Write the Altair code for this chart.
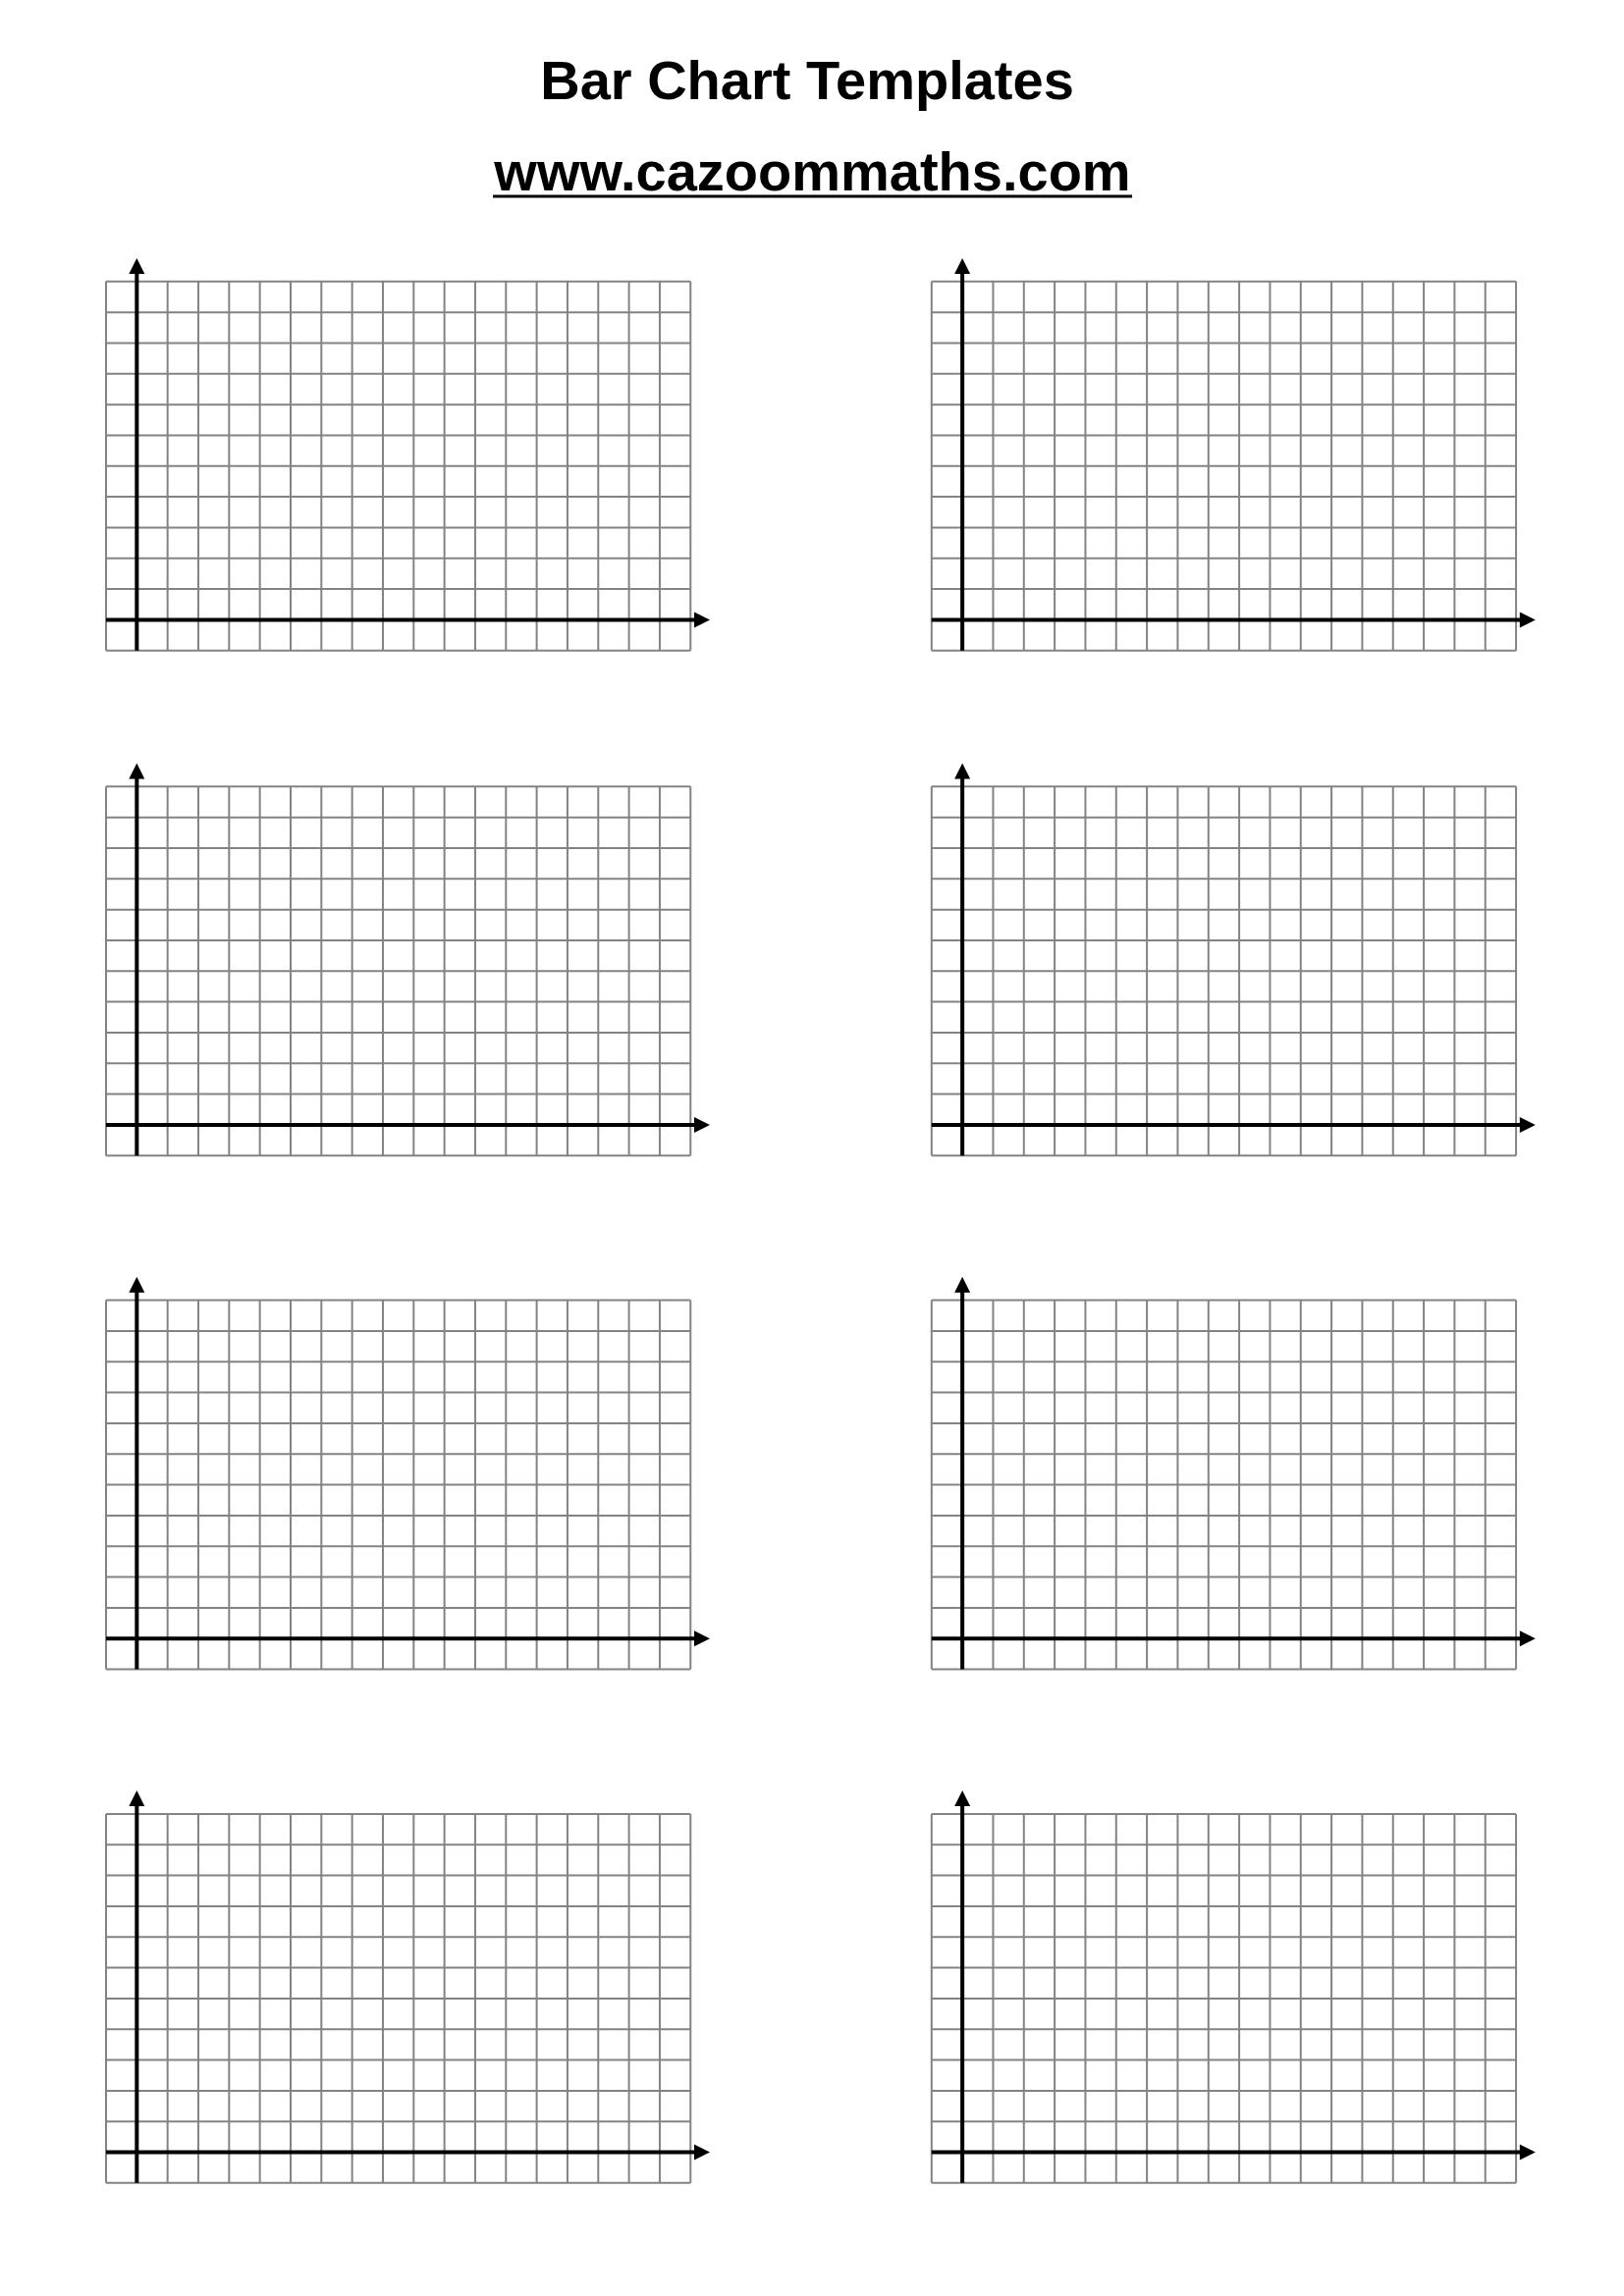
import altair as alt
import pandas as pd

# ---- content ----
TITLE = "Bar Chart Templates"
URL = "www.cazoommaths.com"
N_COLS = 19          # squares across each template
N_ROWS = 12          # squares up each template
AXIS_COL = 1         # grid line used as the vertical axis
AXIS_ROW = 1         # grid line used as the horizontal axis
COL_LINES = list(range(N_COLS + 1))
ROW_LINES = list(range(N_ROWS + 1))
PANEL_ROWS = 4
PANEL_COLS = 2

# ---- styling / geometry ----
CELL = 31.33
X_OVER = 0.63        # arrow overhang beyond grid (cells)
Y_OVER = 0.76
HEAD = 16            # arrow head length in px
GRID_COLOR = "#838383"
FONT = "Liberation Sans"

XMAX = N_COLS + X_OVER
YMAX = N_ROWS + Y_OVER
W = XMAX * CELL
H = YMAX * CELL
H_SPACE = 224.8

vlines = pd.DataFrame({"x": COL_LINES, "y0": [0] * len(COL_LINES), "y1": [N_ROWS] * len(COL_LINES)})
hlines = pd.DataFrame({"y": ROW_LINES, "x0": [0] * len(ROW_LINES), "x1": [N_COLS] * len(ROW_LINES)})
yaxis = pd.DataFrame({"x": [AXIS_COL], "y0": [0], "y1": [YMAX - HEAD / 2 / CELL]})
xaxis = pd.DataFrame({"y": [AXIS_ROW], "x0": [0], "x1": [XMAX - HEAD / 2 / CELL]})
up_tip = pd.DataFrame({"x": [AXIS_COL], "y": [YMAX]})
right_tip = pd.DataFrame({"x": [XMAX], "y": [AXIS_ROW]})

xs = alt.Scale(domain=[0, XMAX], nice=False, zero=False)
ys = alt.Scale(domain=[0, YMAX], nice=False, zero=False)

UP_PATH = "M0,0L-0.5,1L0.5,1Z"
RIGHT_PATH = "M0,0L-1,-0.5L-1,0.5Z"


def panel():
    v = alt.Chart(vlines).mark_rule(color=GRID_COLOR, strokeWidth=2).encode(
        x=alt.X("x:Q", scale=xs, axis=None),
        y=alt.Y("y0:Q", scale=ys, axis=None),
        y2="y1:Q",
    )
    h = alt.Chart(hlines).mark_rule(color=GRID_COLOR, strokeWidth=2).encode(
        y=alt.Y("y:Q", scale=ys, axis=None),
        x=alt.X("x0:Q", scale=xs, axis=None),
        x2="x1:Q",
    )
    ya = alt.Chart(yaxis).mark_rule(color="black", strokeWidth=4).encode(
        x=alt.X("x:Q", scale=xs, axis=None),
        y=alt.Y("y0:Q", scale=ys, axis=None),
        y2="y1:Q",
    )
    xa = alt.Chart(xaxis).mark_rule(color="black", strokeWidth=4).encode(
        y=alt.Y("y:Q", scale=ys, axis=None),
        x=alt.X("x0:Q", scale=xs, axis=None),
        x2="x1:Q",
    )
    up = alt.Chart(up_tip).mark_point(
        shape=UP_PATH, size=(2 * HEAD) ** 2, filled=True, color="black", opacity=1, strokeWidth=0
    ).encode(x=alt.X("x:Q", scale=xs, axis=None), y=alt.Y("y:Q", scale=ys, axis=None))
    rt = alt.Chart(right_tip).mark_point(
        shape=RIGHT_PATH, size=(2 * HEAD) ** 2, filled=True, color="black", opacity=1, strokeWidth=0
    ).encode(x=alt.X("x:Q", scale=xs, axis=None), y=alt.Y("y:Q", scale=ys, axis=None))
    return alt.layer(v, h, ya, xa, up, rt).properties(width=W, height=H)


rows = [
    alt.hconcat(*[panel() for _ in range(PANEL_COLS)], spacing=H_SPACE, bounds="flush")
    for _ in range(PANEL_ROWS)
]
grids = alt.vconcat(
    rows[0],
    alt.vconcat(*rows[1:], spacing=121.3),
    spacing=112.5,
)

HEADER_W = 2 * W + H_SPACE
title_df = pd.DataFrame({"t": [TITLE]})
url_df = pd.DataFrame({"t": [URL]})

title_mark = alt.Chart(title_df).mark_text(
    font=FONT, fontSize=56, fontWeight="bold", align="center", baseline="alphabetic", color="black"
).encode(text="t:N", x=alt.value(714), y=alt.value(92.7))
url_mark = alt.Chart(url_df).mark_text(
    font=FONT, fontSize=56, fontWeight="bold", align="center", baseline="alphabetic", color="black"
).encode(text="t:N", x=alt.value(719.5), y=alt.value(186))
underline = alt.Chart(url_df).mark_rule(color="black", strokeWidth=3).encode(
    x=alt.value(394), x2=alt.value(1045), y=alt.value(192)
)
header = alt.layer(title_mark, url_mark, underline).properties(width=HEADER_W, height=255)

chart = (
    alt.vconcat(header, grids, spacing=0)
    .properties(padding={"left": 98, "top": 0, "right": 8, "bottom": 8}, background="white")
    .configure_view(stroke=None)
)

chart.save("out.html", embed_options={"renderer": "svg", "actions": False})
